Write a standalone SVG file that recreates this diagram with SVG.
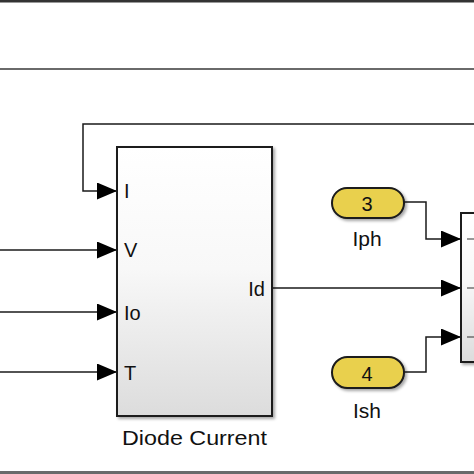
<svg xmlns="http://www.w3.org/2000/svg" width="474" height="474" viewBox="0 0 474 474">
<defs>
<marker id="arr" viewBox="0 0 20 17" refX="20" refY="8.5" markerWidth="20" markerHeight="17" markerUnits="userSpaceOnUse" orient="auto">
<path d="M0,0 L20,8.5 L0,17 Z" fill="#000"/>
</marker>
<linearGradient id="blk" x1="0" y1="0" x2="0" y2="1">
<stop offset="0" stop-color="#ffffff"/>
<stop offset="0.45" stop-color="#f8f8f8"/>
<stop offset="1" stop-color="#dcdcdc"/>
</linearGradient>
<filter id="sh" x="-10%" y="-10%" width="130%" height="130%">
<feGaussianBlur in="SourceAlpha" stdDeviation="1.5"/>
<feOffset dx="2" dy="2"/>
<feComponentTransfer><feFuncA type="linear" slope="0.35"/></feComponentTransfer>
<feMerge><feMergeNode/><feMergeNode in="SourceGraphic"/></feMerge>
</filter>
</defs>
<style>
.t{font-family:"Liberation Sans",Arial,sans-serif;fill:#111}
.w{fill:none;stroke:#1a1a1a;stroke-width:1.5}
.pill{fill:#E9D04E;stroke:#1a1a1a;stroke-width:2}
</style>
<rect width="474" height="474" fill="#fff"/>
<rect x="0" y="0" width="474" height="2.5" fill="#333"/>
<rect x="0" y="68" width="474" height="2" fill="#6a6a6a"/>
<rect x="0" y="471" width="474" height="3" fill="#6a6a6a"/>

<g id="connectors">
<path class="w" d="M474,124 H83 V191 H117" marker-end="url(#arr)"/>
<path class="w" d="M0,250 H117" marker-end="url(#arr)"/>
<path class="w" d="M0,312 H117" marker-end="url(#arr)"/>
<path class="w" d="M0,372 H117" marker-end="url(#arr)"/>
<path class="w" d="M272,288 H461" marker-end="url(#arr)"/>
<path class="w" d="M404,202 H426 V239 H461" marker-end="url(#arr)"/>
<path class="w" d="M404,372 H426 V337 H461" marker-end="url(#arr)"/>
</g>

<g id="diode-current">
<rect x="117" y="147" width="155" height="269" fill="url(#blk)" stroke="#1a1a1a" stroke-width="2" filter="url(#sh)"/>
<text class="t" x="124" y="198" font-size="20">I</text>
<text class="t" x="124" y="257" font-size="20">V</text>
<text class="t" x="124" y="320" font-size="20">Io</text>
<text class="t" x="124" y="380" font-size="20">T</text>
<text class="t" x="265" y="296" font-size="20" text-anchor="end">Id</text>
<text class="t" x="122" y="445" font-size="21" textLength="145" lengthAdjust="spacingAndGlyphs">Diode Current</text>
</g>

<g id="iph">
<rect class="pill" x="332" y="188" width="72" height="30" rx="15" filter="url(#sh)"/>
<text class="t" x="367" y="211" font-size="20" text-anchor="middle">3</text>
<text class="t" x="367" y="246" font-size="21" text-anchor="middle">Iph</text>
</g>

<g id="ish">
<rect class="pill" x="332" y="357" width="72" height="31" rx="15.5" filter="url(#sh)"/>
<text class="t" x="367" y="381" font-size="20" text-anchor="middle">4</text>
<text class="t" x="367" y="418" font-size="21" text-anchor="middle">Ish</text>
</g>

<g id="sum">
<rect x="461" y="213" width="30" height="149" fill="url(#blk)" stroke="#1a1a1a" stroke-width="2" filter="url(#sh)"/>
<path d="M467,239 H474 M467,288 H474 M467,337 H474" stroke="#333" stroke-width="1.2"/>
</g>
</svg>
